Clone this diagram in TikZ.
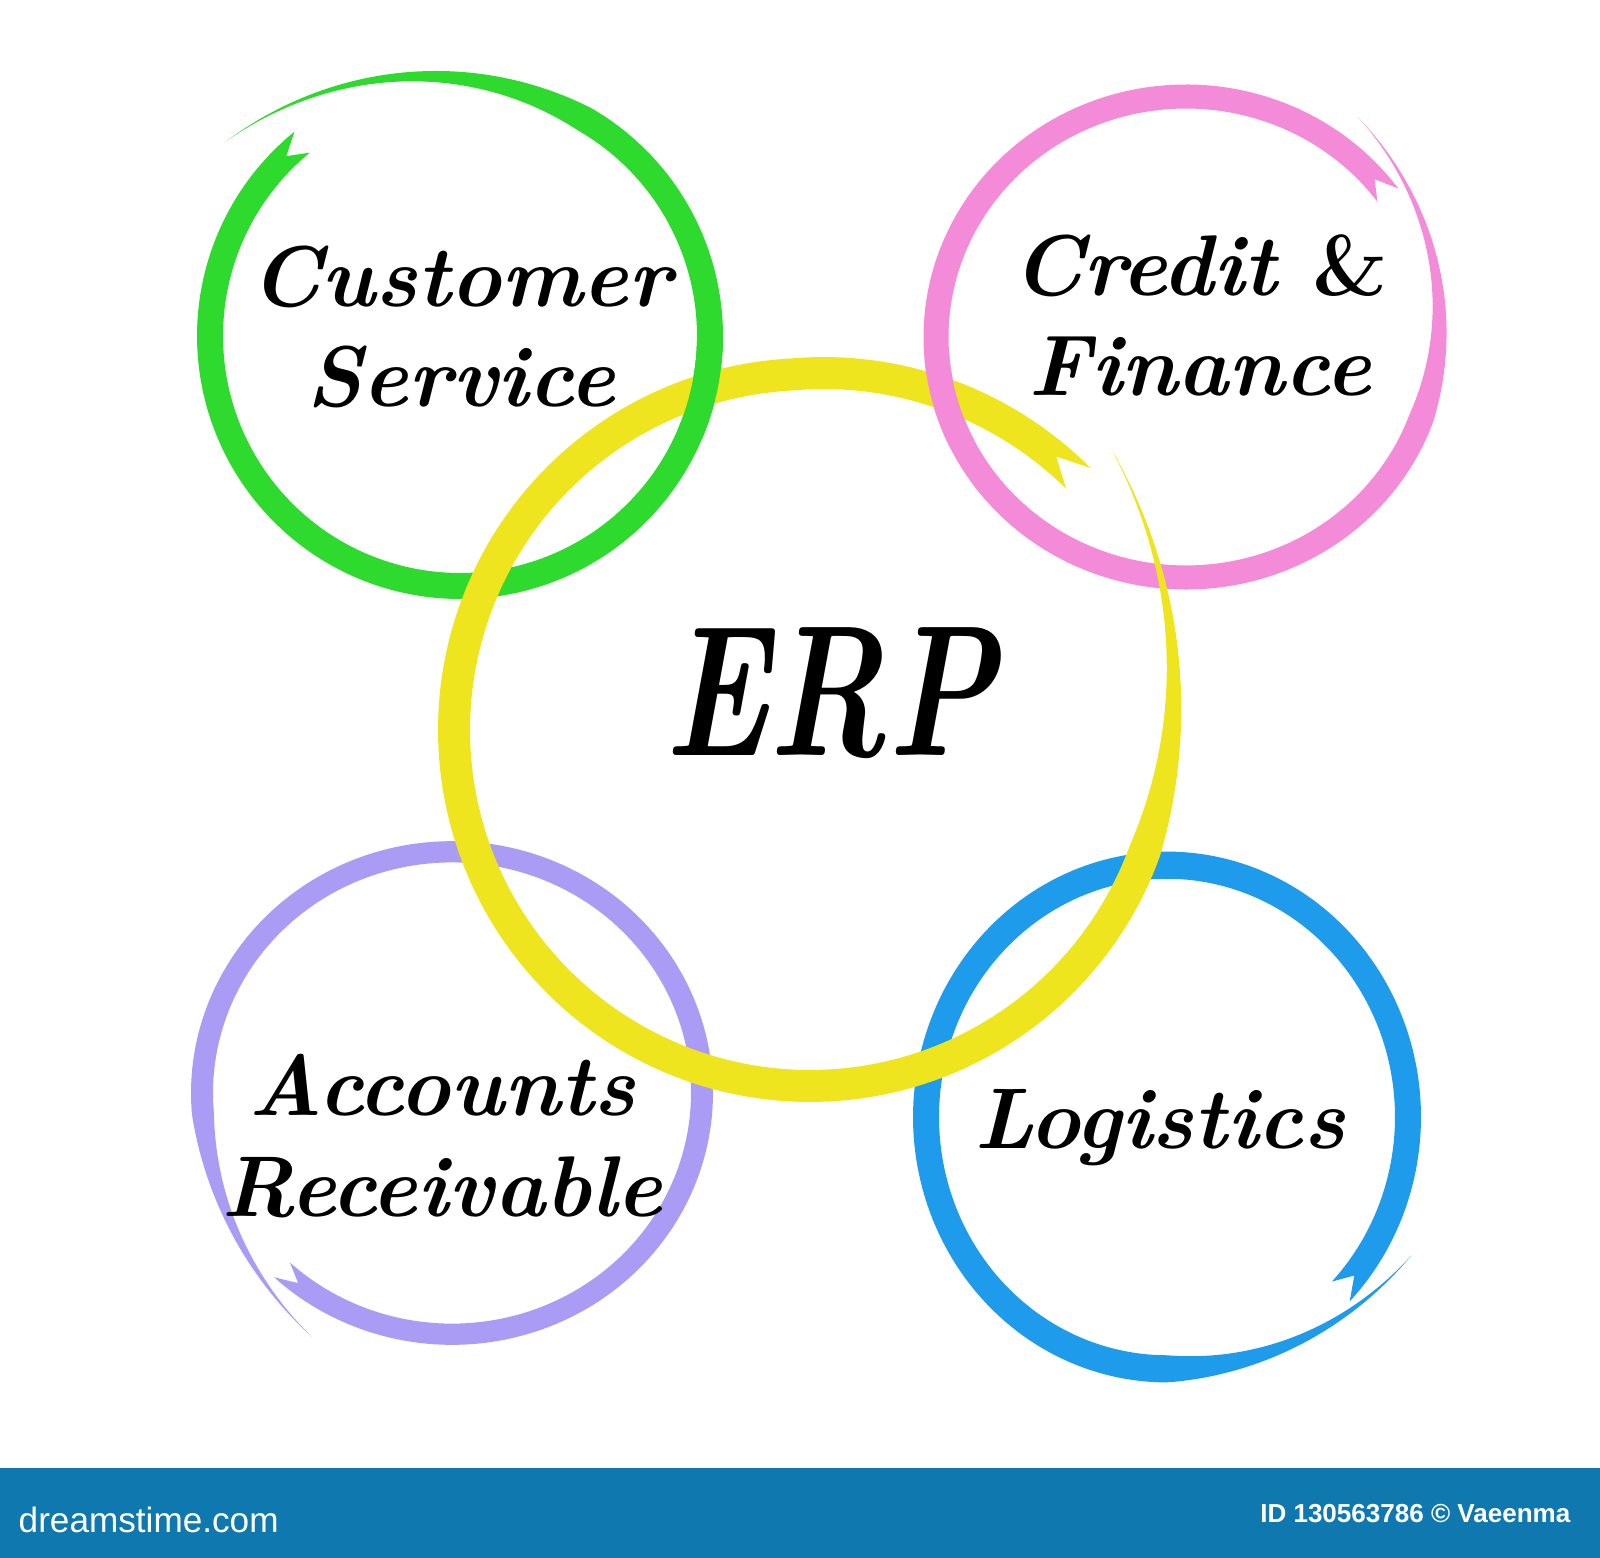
\documentclass[tikz,border=0pt]{standalone}
\usepackage{fontspec}
\newfontfamily\bannerfont{Liberation Sans}
\usetikzlibrary{positioning}
\definecolor{ringgreen}{HTML}{2DDA2D}
\definecolor{ringpink}{HTML}{F48BD9}
\definecolor{ringyellow}{HTML}{EFE51F}
\definecolor{ringpurple}{HTML}{AA9CF5}
\definecolor{ringblue}{HTML}{1E9BEB}
\definecolor{bannerblue}{HTML}{0F78AF}

% brush ring: [colour]{cx}{cy}{radius}{width}{notch angle}{tail start}{tail tip}{tail drift}
\newcommand{\brushring}[9][]{%
	\pgfmathsetmacro{\ringX}{#2}
	\pgfmathsetmacro{\ringY}{#3}
	\pgfmathsetmacro{\ringR}{#4}
	\pgfmathsetmacro{\ringW}{#5}
	\pgfmathsetmacro{\ringA}{#6}
	\pgfmathsetmacro{\ringB}{#7}
	\pgfmathsetmacro{\ringC}{#8}
	\pgfmathsetmacro{\ringD}{#9}
	\fill[#1] plot[domain=0:1, samples=220] ({\ringX+(ringrad(\x)+ringwid(\x)/2)*cos(ringang(\x))}, {\ringY-\ringE*(ringrad(\x)+ringwid(\x)/2)*sin(ringang(\x))})
		-- plot[domain=1:0, samples=220] ({\ringX+(ringrad(\x)-ringwid(\x)/2)*cos(ringang(\x))}, {\ringY-\ringE*(ringrad(\x)-ringwid(\x)/2)*sin(ringang(\x))})
		-- ({\ringX+ringrad(0)*cos(\ringA+5)}, {\ringY-\ringE*ringrad(0)*sin(\ringA+5)}) -- cycle;
}
\def\ringS{0}
\def\ringE{1}

\begin{document}
\begin{tikzpicture}[x=0.01cm, y=-0.01cm,
	declare function={
		ringang(\x)=\ringA+(\ringC-\ringA)*\x;
		ringu(\x)=max(0,(ringang(\x)-\ringB)/(\ringC-\ringB));
		ringrad(\x)=\ringR+\ringD*ringu(\x)*ringu(\x)+\ringS*max(0,1-(ringang(\x)-\ringA)/50);
		ringwid(\x)=\ringW*(1-ringu(\x))*(1-0.5*ringu(\x));
	},
	ringlabel/.style={font=\fontsize{24.5}{28.5}\selectfont\bfseries\itshape, align=center, anchor=base, inner sep=0pt},
	bannertext/.style={font=\bannerfont, text=white, inner sep=0pt}]
	\useasboundingbox (0,0) rectangle (1600,1558);
	\fill[white] (0,0) rectangle (1600,1558);

	% outer rings
	\brushring[ringgreen]{460}{336}{250}{26}{129}{420}{500}{54}
	\def\ringE{0.962}
	\brushring[ringpink]{1186}{337}{250}{25}{36}{340}{413}{36}
	\def\ringE{0.965}
	\brushring[ringpurple]{452}{1093}{250}{22}{227}{545}{601}{39}
	\def\ringE{1.045}
	\brushring[ringblue]{1167}{1117}{241}{26}{-44}{270}{331.5}{37}
	\def\ringE{1}

	% ERP ring on top
	\def\ringS{12}
	\brushring[ringyellow]{810}{730}{356}{32}{43}{340}{403}{56}
	\def\ringS{0}

	% where the small rings pass over the big one
	\begin{scope}
		\clip (704,390) circle[radius=48];
		\brushring[ringgreen]{460}{336}{250}{26}{129}{420}{500}{54}
	\end{scope}
	\begin{scope}
		\clip (947,401) circle[radius=48];
		\def\ringE{0.962}
		\brushring[ringpink]{1186}{337}{250}{25}{36}{340}{413}{36}
	\end{scope}

	% labels (base = last line)
	\node[ringlabel] (service) at (461,407) {Customer\\Service};
	\node[ringlabel] (finance) at (1200,396) {Credit {\upshape\&}\\Finance};
	\node[ringlabel, font=\fontsize{53}{58}\selectfont\bfseries\itshape, xscale=0.74] (erp) at (830,755) {ERP};
	\node[ringlabel] (receivable) at (442,1216) {Accounts\\Receivable};
	\node[ringlabel] (logistics) at (1160,1148) {Logistics};

	% stock banner
	\fill[bannerblue] (0,1468) rectangle (1600,1558);
	\node[bannertext, anchor=base west, font=\bannerfont\fontsize{10}{12}\selectfont] (site) at (18,1532) {dreamstime.com};
	\node[bannertext, anchor=base east, font=\bannerfont\bfseries\fontsize{7.4}{9}\selectfont] (stockid) at (1571,1522) {ID 130563786 © Vaeenma};
\end{tikzpicture}
\end{document}
